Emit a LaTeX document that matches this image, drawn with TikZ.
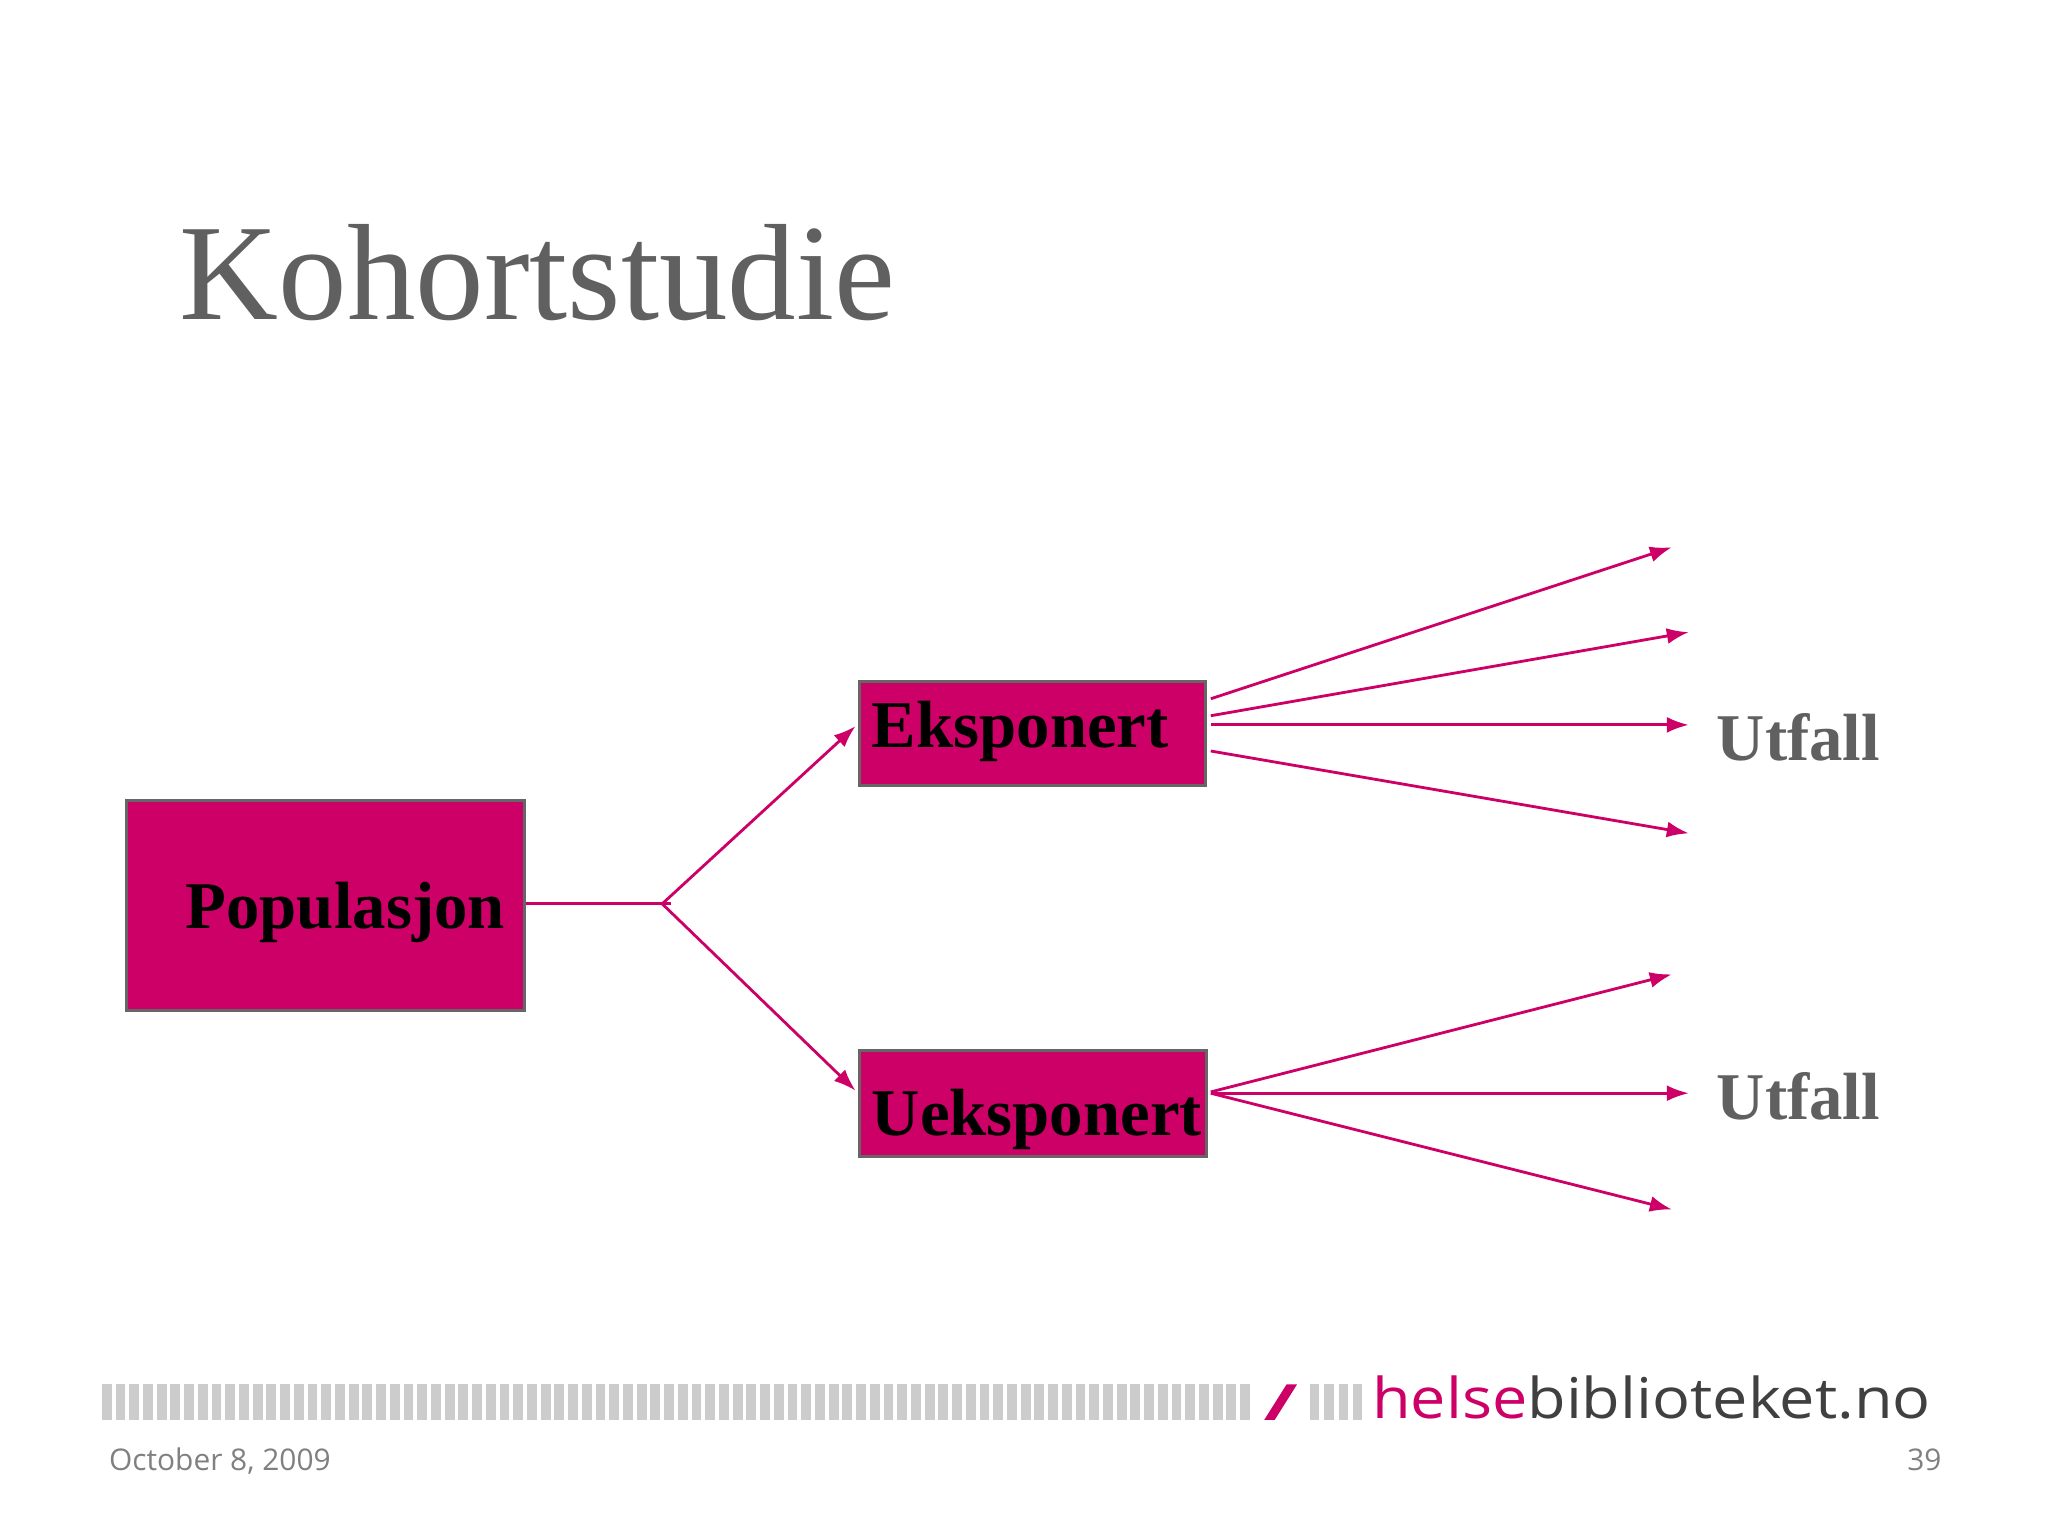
\documentclass[tikz,border=0pt]{standalone}
\usepackage{fontspec}
\usepackage{graphicx}
\setmainfont{Liberation Serif}
\newfontfamily\footfont{Open Sans}
\usetikzlibrary{arrows.meta}
\usetikzlibrary{positioning}
\definecolor{helsered}{HTML}{CC0066}
\definecolor{titlegray}{HTML}{606060}
\begin{document}
\begin{tikzpicture}[x=0.01306cm,y=-0.01306cm]
  \tikzset{groupbox/.style={fill=helsered,draw=gray!80!black,line width=0.8pt,inner sep=0pt},
           boxtext/.style={font=\fontsize{19}{23}\selectfont\bfseries,text=black},
           outcome/.style={font=\fontsize{19}{23}\selectfont\bfseries,text=titlegray,anchor=base west},
           leadsto/.style={-{Latex[length=2.2mm,width=1.6mm]},draw=helsered,line width=0.8pt}}
  \useasboundingbox (0,0) rectangle (1568,1176);

  \node[font=\fontsize{39}{46}\selectfont,text=titlegray,anchor=base west] (title) at (128,245) {Kohortstudie};

  \node[groupbox,minimum width=3.98cm,minimum height=2.1cm,anchor=north west] (pop) at (96,612) {};
  \node[boxtext,anchor=base east] (poptext) at (396,711) {Populasjon};
  \node[groupbox,minimum width=3.46cm,minimum height=1.04cm,anchor=north west] (eks) at (657,521) {};
  \node[boxtext,anchor=base west] (ekstext) at (658,572) {Eksponert};
  \node[groupbox,minimum width=3.47cm,minimum height=1.06cm,anchor=north west] (ueks) at (657,803) {};
  \node[boxtext,anchor=base west] (uekstext) at (658,869) {Ueksponert};

  \node[outcome] (utfall1) at (1305,582) {Utfall};
  \node[outcome] (utfall2) at (1305,857) {Utfall};

  % branch from the population
  \coordinate (split) at (507,692);
  \draw[helsered,line width=0.8pt] (pop.east |- split) -- (514,692);
  \draw[leadsto] (split) -- (655,556);
  \draw[leadsto] (split) -- (655,835);

  % outcomes
  \coordinate (e1) at (1280,419);
  \coordinate (e2) at (1293,484);
  \coordinate (e3) at (1293,555);
  \coordinate (e4) at (1293,638);
  \draw[leadsto] (927,535) -- (e1);
  \draw[leadsto] (927,548) -- (e2);
  \draw[leadsto] (927,555) -- (e3);
  \draw[leadsto] (927,575) -- (e4);
  \coordinate (u1) at (1280,746);
  \coordinate (u2) at (1293,837);
  \coordinate (u3) at (1280,926);
  \draw[leadsto] (927,836) -- (u1);
  \draw[leadsto] (927,837) -- (u2);
  \draw[leadsto] (927,837) -- (u3);

  % footer
  \foreach \i in {0,...,83}
    \fill[gray!40] (78+\i*10.5,1060) rectangle ++(7.5,27);
  \fill[helsered] (968,1087) -- (976,1087) -- (993,1060) -- (985,1060) -- cycle;
  \foreach \i in {0,...,3}
    \fill[gray!40] (1003+\i*11,1060) rectangle ++(7,27);
  \node[font=\footfont\fontsize{16}{20}\selectfont,anchor=base west,inner sep=0pt] (logo) at (1050,1086)
    {\scalebox{1.12}[1]{\textcolor{helsered}{helse}\textcolor{black!75}{biblioteket.no}}};
  \node[font=\footfont\fontsize{8.5}{10}\selectfont,text=gray,anchor=base west,inner sep=0pt] (date) at (83,1126) {October 8, 2009};
  \node[font=\footfont\fontsize{8.5}{10}\selectfont,text=gray,anchor=base east,inner sep=0pt] (page) at (1487,1126) {39};
\end{tikzpicture}
\end{document}
